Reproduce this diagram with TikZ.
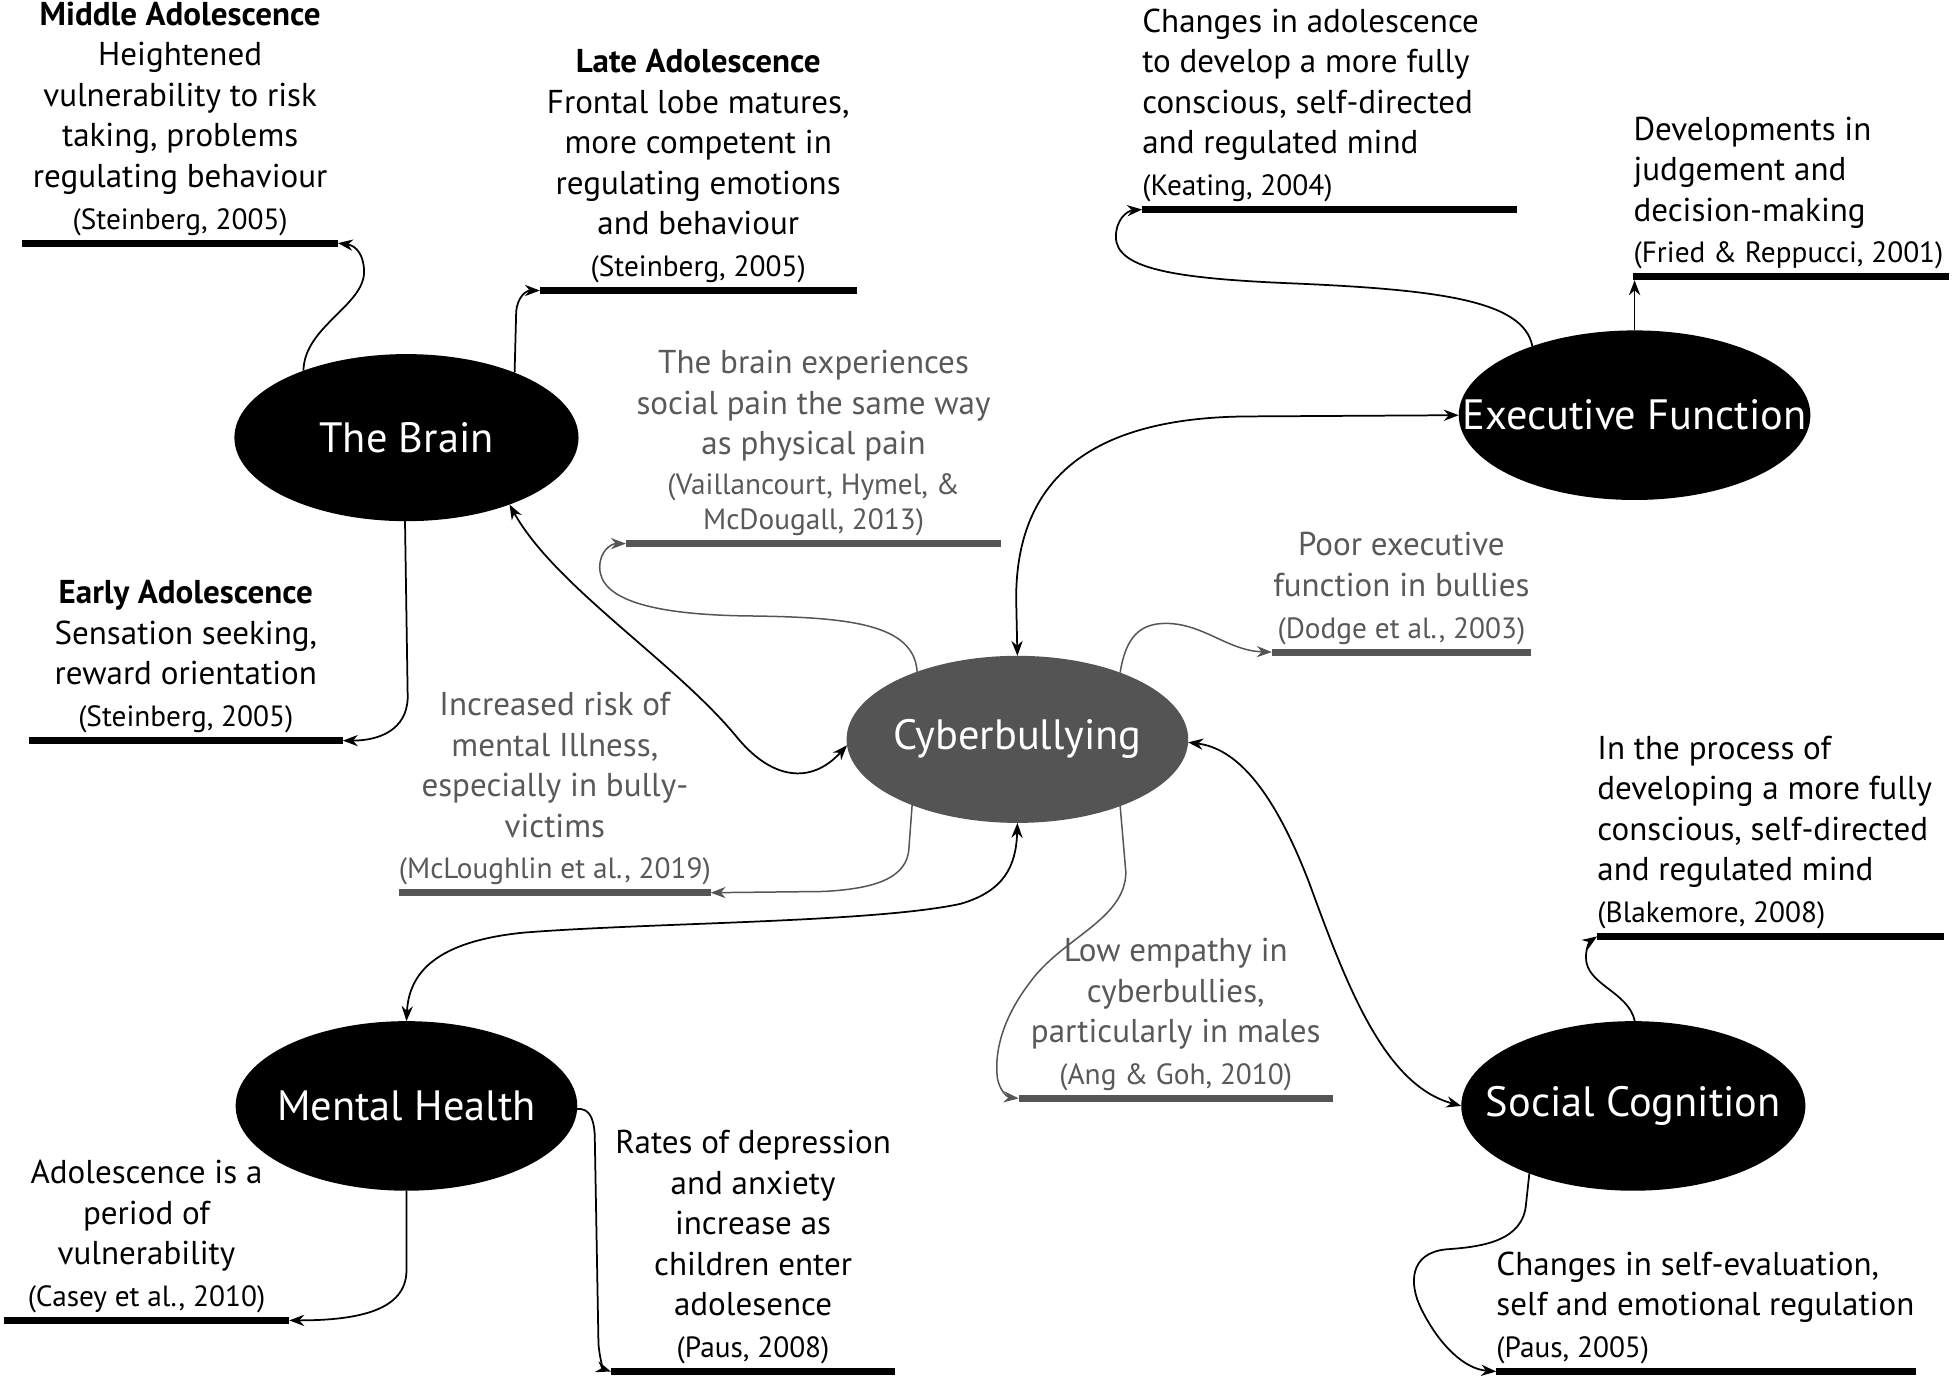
\documentclass[tikz,border=0pt]{standalone}
\usepackage{fontspec}
\setmainfont{PT Sans}
\usetikzlibrary{arrows.meta,shapes.geometric}
\definecolor{gtext}{HTML}{595959}
\definecolor{gbar}{HTML}{555555}
\definecolor{cyb}{HTML}{545454}
\newcommand\mycite[1]{{\fontsize{23.5}{28}\selectfont #1}}
\begin{document}
\begin{tikzpicture}[x=1pt,y=-1pt,
  blob/.style={ellipse, fill=black, text=white, inner sep=0pt, outer sep=0pt, font=\fontsize{34}{40}\selectfont},
  barb/.style={rectangle, fill=black, inner sep=0pt, outer sep=0pt, minimum height=5.5pt},
  barg/.style={barb, fill=gbar},
  txt/.style={inner sep=0pt, align=center, font=\fontsize{26.5}{32.5}\selectfont},
  txtl/.style={txt, align=left},
  gtxt/.style={txt, text=gtext},
  arr/.style={line width=1.4pt, -{Stealth[length=12pt,width=9pt]}},
  darr/.style={line width=1.4pt, {Stealth[length=12pt,width=9pt]}-{Stealth[length=12pt,width=9pt]}},
  garr/.style={arr, draw=gbar, line width=1.2pt},
]
\path[use as bounding box, fill=white] (0,0) rectangle (1568,1108);

% ellipses
\node[blob, minimum width=276pt, minimum height=134pt] (brain) at (326,351) {\makebox[0pt]{The Brain}};
\node[blob, minimum width=282pt, minimum height=136pt] (exec) at (1311,333) {\makebox[0pt]{Executive Function}};
\node[blob, fill=cyb, minimum width=274pt, minimum height=134pt] (cyber) at (816,593) {\makebox[0pt]{Cyberbullying}};
\node[blob, minimum width=274pt, minimum height=136pt] (mental) at (326,887) {\makebox[0pt]{Mental Health}};
\node[blob, minimum width=276pt, minimum height=136pt] (social) at (1310,887) {\makebox[0pt]{Social Cognition}};

% bars
\node[barb, minimum width=253pt] (bMid) at (144.5,195) {};
\node[barb, minimum width=254pt] (bLate) at (560,233) {};
\node[barg, minimum width=301pt] (bVail) at (652.5,436) {};
\node[barb, minimum width=252pt] (bEarly) at (149,594) {};
\node[barg, minimum width=250pt] (bMcL) at (445,716) {};
\node[barb, minimum width=301pt] (bKeat) at (1066.5,168) {};
\node[barb, minimum width=253pt] (bFried) at (1436.5,222) {};
\node[barg, minimum width=208pt] (bDodge) at (1124,523) {};
\node[barb, minimum width=278pt] (bBlake) at (1420,751) {};
\node[barg, minimum width=252pt] (bAng) at (943,881) {};
\node[barb, minimum width=229pt] (bCasey) at (117.5,1059) {};
\node[barb, minimum width=228pt] (bPausA) at (604,1100) {};
\node[barb, minimum width=337pt] (bPausB) at (1368.5,1100) {};

% texts
\node[txt, anchor=south] (tMid) at ([yshift=3pt]bMid.north) {\textbf{Middle Adolescence}\\Heightened\\vulnerability to risk\\taking, problems\\regulating behaviour\\[1pt]\mycite{(Steinberg, 2005)}};
\node[txt, anchor=south] (tLate) at ([yshift=3pt]bLate.north) {\textbf{Late Adolescence}\\Frontal lobe matures,\\more competent in\\regulating emotions\\and behaviour\\[1pt]\mycite{(Steinberg, 2005)}};
\node[gtxt, anchor=south] (tVail) at ([yshift=3pt]bVail.north) {The brain experiences\\social pain the same way\\as physical pain\\[-0.5pt]\mycite{(Vaillancourt, Hymel, \&}\\[-4.5pt]\mycite{McDougall, 2013)}};
\node[txt, anchor=south] (tEarly) at ([yshift=3pt]bEarly.north) {\textbf{Early Adolescence}\\Sensation seeking,\\reward orientation\\[1pt]\mycite{(Steinberg, 2005)}};
\node[gtxt, anchor=south] (tMcL) at ([yshift=3pt]bMcL.north) {Increased risk of\\mental Illness,\\especially in bully-\\victims\\[1pt]\mycite{(McLoughlin et al., 2019)}};
\node[txtl, anchor=south west] (tKeat) at ([yshift=3pt]bKeat.north west) {Changes in adolescence\\to develop a more fully\\conscious, self-directed\\and regulated mind\\[1pt]\mycite{(Keating, 2004)}};
\node[txtl, anchor=south west] (tFried) at ([yshift=3pt]bFried.north west) {Developments in\\judgement and\\decision-making\\[1pt]\mycite{(Fried \& Reppucci, 2001)}};
\node[gtxt, anchor=south] (tDodge) at ([yshift=3pt]bDodge.north) {Poor executive\\function in bullies\\[1pt]\mycite{(Dodge et al., 2003)}};
\node[txtl, anchor=south west] (tBlake) at ([yshift=3pt]bBlake.north west) {In the process of\\developing a more fully\\conscious, self-directed\\and regulated mind\\[1pt]\mycite{(Blakemore, 2008)}};
\node[gtxt, anchor=south] (tAng) at ([yshift=3pt]bAng.north) {Low empathy in\\cyberbullies,\\particularly in males\\[1pt]\mycite{(Ang \& Goh, 2010)}};
\node[txt, anchor=south] (tCasey) at ([yshift=3pt]bCasey.north) {Adolescence is a\\period of\\vulnerability\\[1pt]\mycite{(Casey et al., 2010)}};
\node[txt, anchor=south] (tPausA) at ([yshift=3pt]bPausA.north) {Rates of depression\\and anxiety\\increase as\\children enter\\adolesence\\[1pt]\mycite{(Paus, 2008)}};
\node[txtl, anchor=south west] (tPausB) at ([yshift=3pt]bPausB.north west) {Changes in self-evaluation,\\self and emotional regulation\\[1pt]\mycite{(Paus, 2005)}};

% connectors from The Brain
\draw[arr] (brain.147) .. controls (244,262) and (292,245) .. (292,218) .. controls (292,205) and (286,197) .. (bMid.east);
\draw[arr] (brain.31) -- (414,250) .. controls (415,238) and (422,233) .. (bLate.west);
\draw[arr] (brain.269) -- (327,560) .. controls (326,585) and (305,594) .. (bEarly.east);

% Cyberbullying <-> The Brain
\draw[darr] (brain.327) .. controls (445,470) and (540,530) .. (590,590) .. controls (618,625) and (650,630) .. (cyber.182);
% Cyberbullying -> Vaillancourt
\draw[garr] (cyber.146) .. controls (733,500) and (680,495) .. (600,494) .. controls (520,493) and (481,480) .. (481,455) .. controls (481,442) and (490,436) .. (bVail.west);
% Cyberbullying <-> Executive
\draw[darr] (cyber.90) -- (815,480) .. controls (815,380) and (880,335) .. (1000,334) -- (exec.180);
% Executive -> Keating
\draw[arr] (exec.146) .. controls (1222,240) and (1150,232) .. (1030,227) .. controls (940,223) and (895,215) .. (895,190) .. controls (895,176) and (904,169) .. (bKeat.west);
% Executive -> Fried
\draw[arr] (exec.north) -- (exec.north |- bFried.south);
% Cyberbullying -> Dodge
\draw[garr] (cyber.33) .. controls (903,510) and (915,500) .. (935,500) .. controls (965,500) and (985,522) .. (bDodge.west);
% Cyberbullying -> McLoughlin
\draw[garr] (cyber.212) -- (729,680) .. controls (728,705) and (700,713) .. (660,715) -- (bMcL.east);
% Mental <-> Cyberbullying
\draw[darr] (mental.90) .. controls (328,780) and (350,755) .. (420,748) .. controls (520,740) and (700,740) .. (770,725) .. controls (805,715) and (815,695) .. (cyber.270);
% Cyberbullying -> Ang
\draw[garr] (cyber.327) -- (903,700) .. controls (902,738) and (852,752) .. (826,788) .. controls (800,822) and (798,850) .. (800,865) .. controls (802,875) and (808,880) .. (bAng.west);
% Cyberbullying <-> Social
\draw[darr] (cyber.359) .. controls (990,600) and (1020,630) .. (1050,708) .. controls (1080,790) and (1110,870) .. (social.180);
% Social -> Blakemore
\draw[arr] (social.89) .. controls (1306,795) and (1272,790) .. (1272,768) .. controls (1272,760) and (1275,755) .. (bBlake.west);
% Social -> Paus 2005
\draw[arr] (social.213) -- (1224,965) .. controls (1222,995) and (1190,1000) .. (1160,1002) .. controls (1130,1005) and (1130,1030) .. (1140,1050) .. controls (1155,1080) and (1175,1098) .. (bPausB.west);
% Mental -> Casey
\draw[arr] (mental.270) -- (326,1020) .. controls (325,1050) and (290,1059) .. (bCasey.east);
% Mental -> Paus 2008
\draw[arr] (mental.359) .. controls (472,889) and (476,895) .. (477,910) -- (480,1078) .. controls (481,1090) and (484,1098) .. (bPausA.west);
\end{tikzpicture}
\end{document}
